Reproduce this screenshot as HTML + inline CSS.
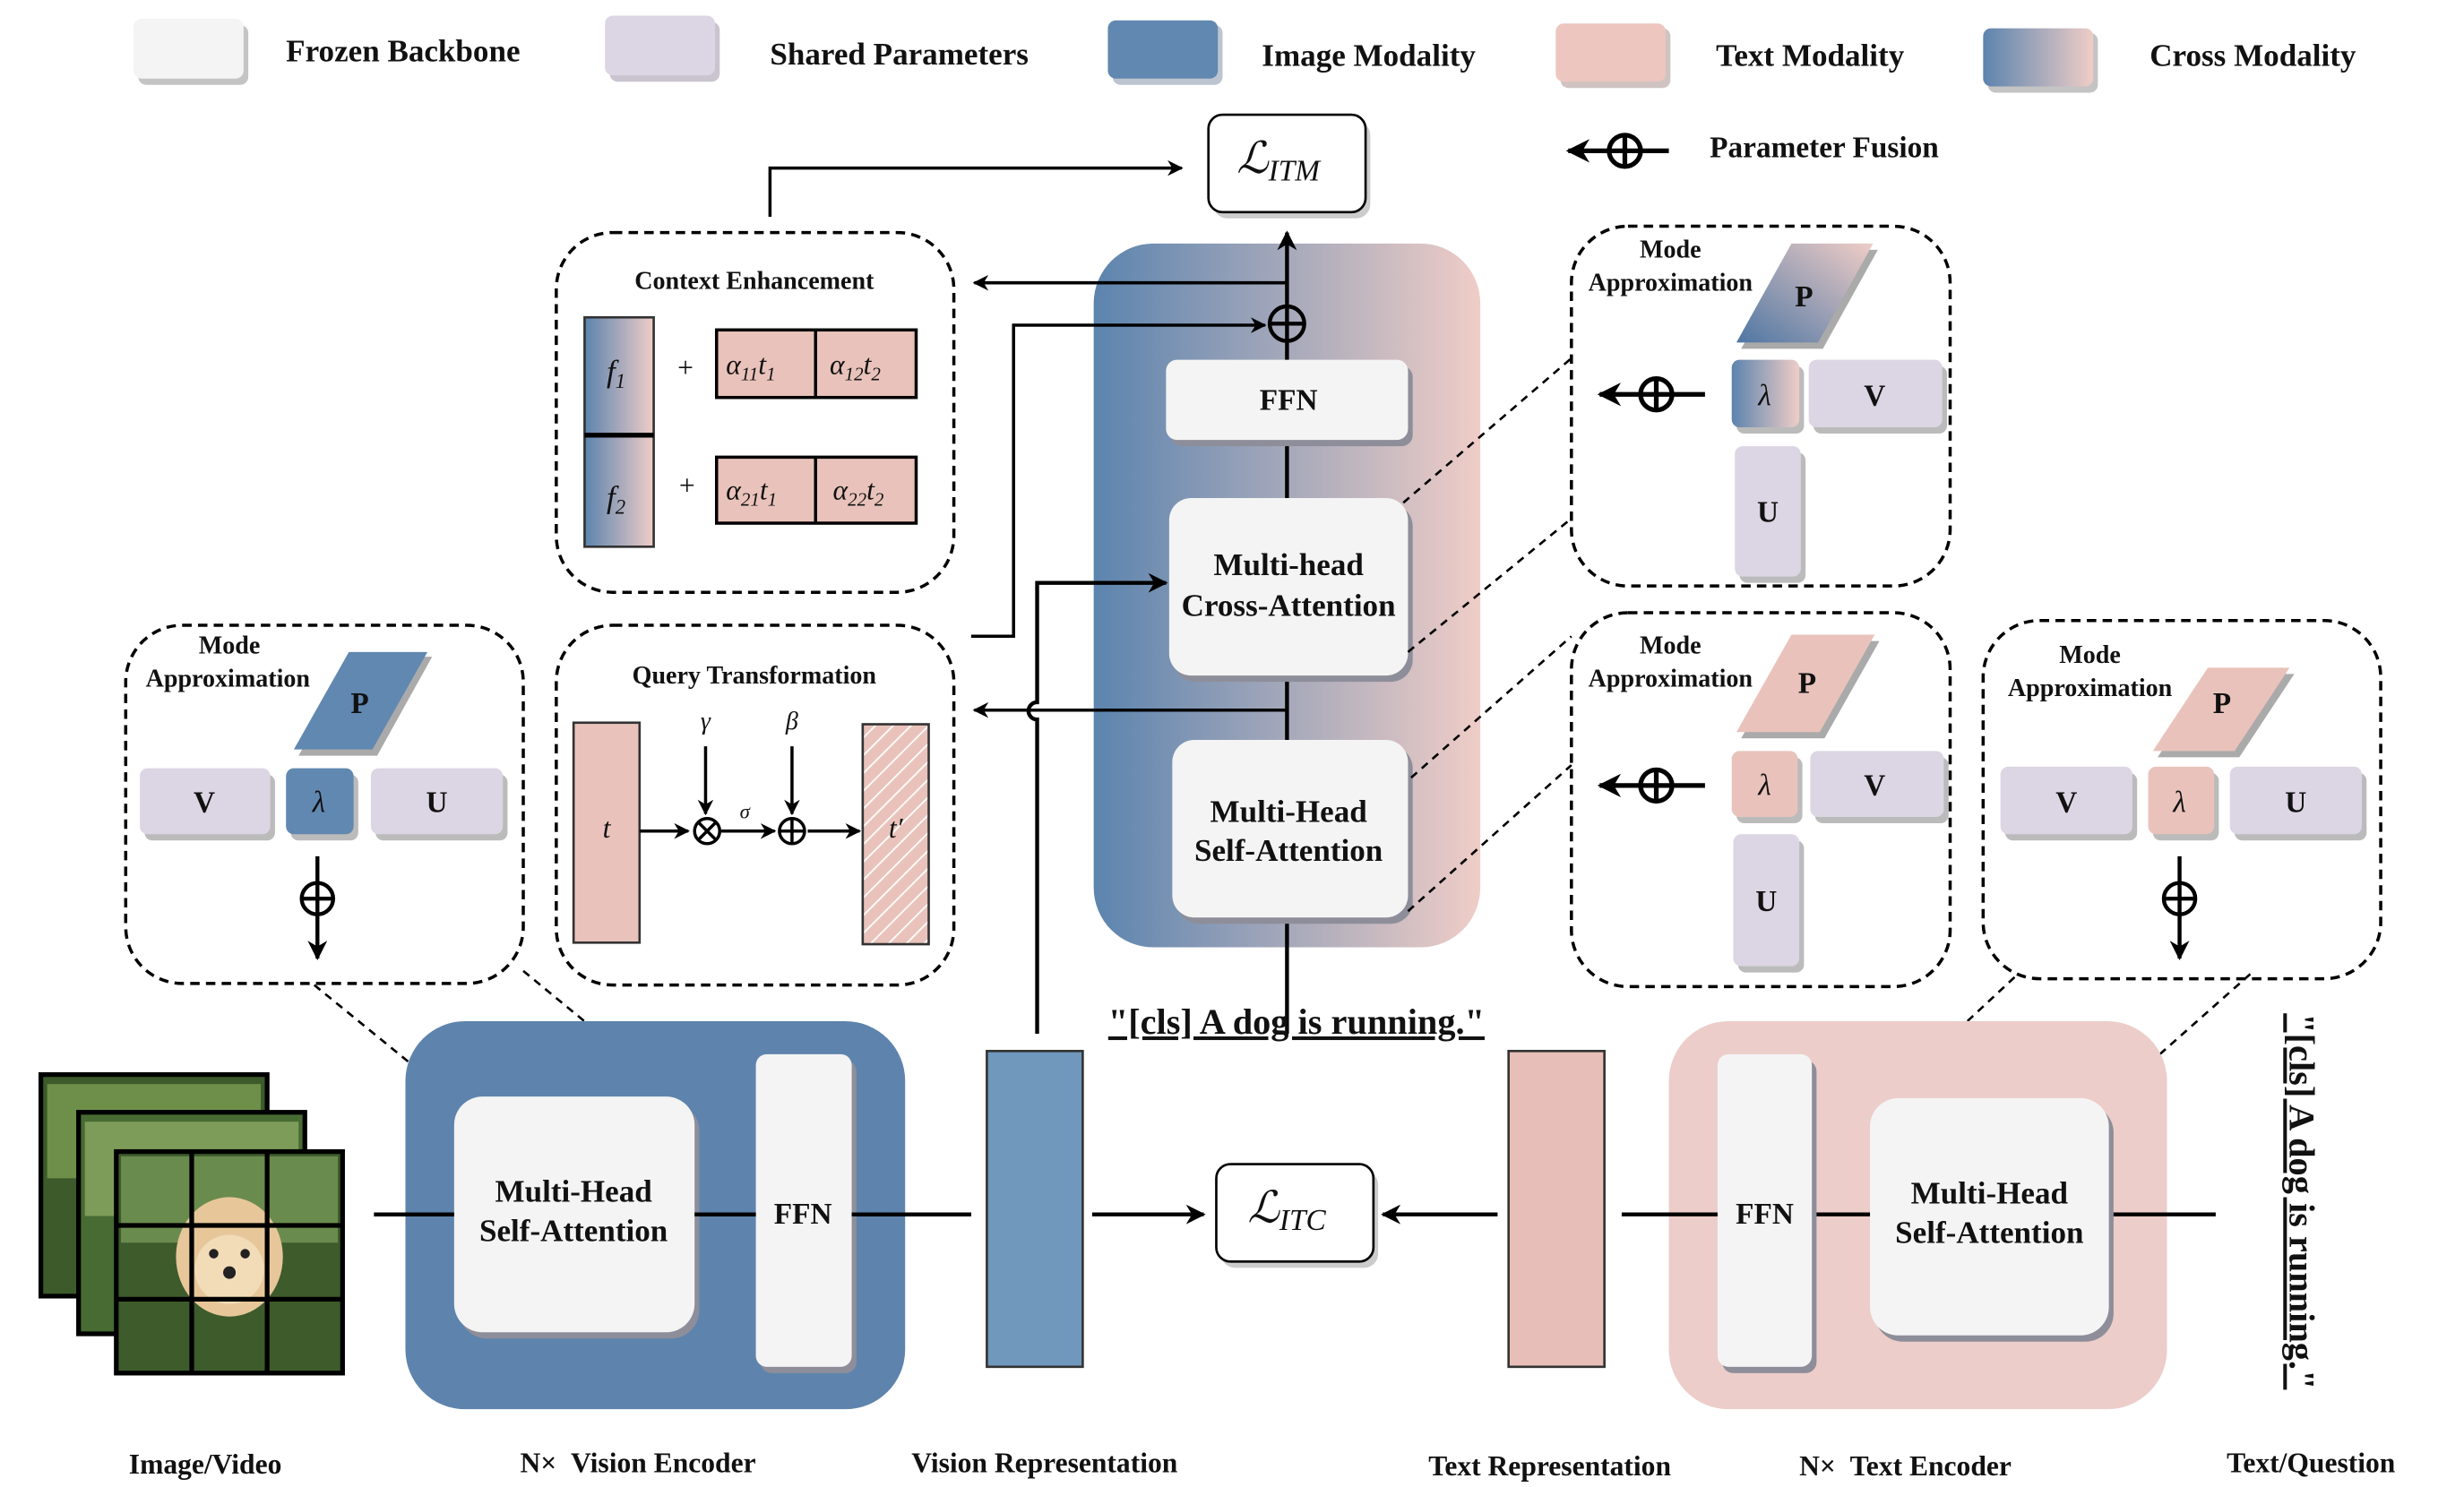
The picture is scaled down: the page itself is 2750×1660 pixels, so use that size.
<!DOCTYPE html>
<html><head><meta charset="utf-8"><style>
html,body{margin:0;padding:0;background:#fff;}
svg{display:block;}
text{font-family:"Liberation Serif",serif;font-weight:bold;fill:#111;}
.it{font-style:italic;font-weight:normal;}
</style></head><body>
<svg width="2750" height="1660" viewBox="0 0 1568 946.5" preserveAspectRatio="none" xmlns="http://www.w3.org/2000/svg">
<defs>
<linearGradient id="cg" x1="0" x2="1" y1="0" y2="0"><stop offset="0" stop-color="#5c84ae"/><stop offset="1" stop-color="#efcdc7"/></linearGradient>
<linearGradient id="cg2" x1="0" x2="1" y1="1" y2="0"><stop offset="0" stop-color="#4f76a3"/><stop offset="1" stop-color="#efcdc7"/></linearGradient>
<marker id="ar" viewBox="0 0 10 10" refX="9" refY="5" markerWidth="5" markerHeight="5" orient="auto"><path d="M0,0 L10,5 L0,10 L3,5z" fill="#000"/></marker>
<pattern id="hat" width="8" height="8" patternUnits="userSpaceOnUse" patternTransform="rotate(45)"><rect width="8" height="8" fill="#e9c3bb"/><line x1="0" y1="0" x2="0" y2="8" stroke="#fff" stroke-width="2"/></pattern>
</defs>

<!-- legend -->
<g>
<rect x="88" y="16" width="70" height="38" rx="5" fill="#c4c4c4"/><rect x="85" y="12" width="70" height="38" rx="5" fill="#f4f4f4"/>
<rect x="388" y="14" width="70" height="38" rx="5" fill="#c9c4cf"/><rect x="385" y="10" width="70" height="38" rx="5" fill="#dcd5e3"/>
<rect x="708" y="16" width="70" height="38" rx="5" fill="#bcc4cf"/><rect x="705" y="13" width="70" height="37" rx="5" fill="#6188b0"/>
<rect x="993" y="18" width="70" height="38" rx="5" fill="#cfc4c2"/><rect x="990" y="15" width="70" height="37" rx="5" fill="#ecc6bf"/>
<rect x="1265" y="21" width="70" height="38" rx="5" fill="#c4c4c4"/><rect x="1262" y="18" width="70" height="37" rx="5" fill="url(#cg)"/>
<text x="182" y="39" font-size="20">Frozen Backbone</text>
<text x="490" y="41" font-size="20">Shared Parameters</text>
<text x="803" y="42" font-size="20">Image Modality</text>
<text x="1092" y="42" font-size="20">Text Modality</text>
<text x="1368" y="42" font-size="20">Cross Modality</text>
<line x1="1062" y1="96" x2="998" y2="96" stroke="#000" stroke-width="3" marker-end="url(#ar)"/>
<circle cx="1034" cy="96" r="10" fill="none" stroke="#000" stroke-width="3"/><line x1="1034" y1="86" x2="1034" y2="106" stroke="#000" stroke-width="3"/>
<text x="1088" y="100" font-size="19">Parameter Fusion</text>
</g>

<!-- LITM -->
<rect x="772" y="77" width="100" height="62" rx="9" fill="#ccc"/>
<rect x="769" y="73" width="100" height="62" rx="9" fill="#fff" stroke="#000" stroke-width="1.5"/>
<text x="787" y="110" font-size="28" class="it">ℒ<tspan font-size="19" dy="5">ITM</tspan></text>
<polyline points="490,138 490,107 752,107" fill="none" stroke="#000" stroke-width="2" marker-end="url(#ar)"/>

<!-- center cross block -->
<rect x="696" y="155" width="246" height="448" rx="38" fill="url(#cg)"/>
<line x1="819" y1="658" x2="819" y2="148" stroke="#000" stroke-width="2.5" marker-end="url(#ar)"/>
<circle cx="819" cy="206" r="11" fill="none" stroke="#000" stroke-width="2.5"/><line x1="808" y1="206" x2="830" y2="206" stroke="#000" stroke-width="2.5"/>
<rect x="745" y="233" width="154" height="51" rx="7" fill="#8e8e9a"/><rect x="742" y="229" width="154" height="51" rx="7" fill="#f4f4f4"/>
<text x="820" y="261" font-size="19" text-anchor="middle">FFN</text>
<rect x="747" y="321" width="152" height="113" rx="14" fill="#8e8e9a"/><rect x="744" y="317" width="152" height="113" rx="14" fill="#f4f4f4"/>
<text x="820" y="366" font-size="20" text-anchor="middle">Multi-head</text><text x="820" y="392" font-size="20" text-anchor="middle">Cross-Attention</text>
<rect x="749" y="475" width="150" height="113" rx="14" fill="#8e8e9a"/><rect x="746" y="471" width="150" height="113" rx="14" fill="#f4f4f4"/>
<text x="820" y="523" font-size="20" text-anchor="middle">Multi-Head</text><text x="820" y="548" font-size="20" text-anchor="middle">Self-Attention</text>
<line x1="819" y1="180" x2="620" y2="180" stroke="#000" stroke-width="2" marker-end="url(#ar)"/>
<polyline points="618,405 645,405 645,207 805,207" fill="none" stroke="#000" stroke-width="2" marker-end="url(#ar)"/>
<line x1="819" y1="452" x2="620" y2="452" stroke="#000" stroke-width="2" marker-end="url(#ar)"/>
<path d="M660,658 L660,458 A5,5 0 0 1 660,447 L660,371 L742,371" fill="none" stroke="#000" stroke-width="2.5" marker-end="url(#ar)"/>
<text x="825" y="658" font-size="23" text-anchor="middle" text-decoration="underline">"[cls] A dog is running."</text>

<!-- Context Enhancement -->
<rect x="354" y="148" width="253" height="229" rx="36" fill="none" stroke="#000" stroke-width="2" stroke-dasharray="6,4"/>
<text x="480" y="184" font-size="16" text-anchor="middle">Context Enhancement</text>
<rect x="372" y="202" width="44" height="146" fill="url(#cg)" stroke="#333" stroke-width="1.5"/>
<line x1="372" y1="277" x2="416" y2="277" stroke="#000" stroke-width="3"/>
<text x="386" y="243" font-size="20" class="it">f<tspan font-size="13" dy="4">1</tspan></text>
<text x="386" y="323" font-size="20" class="it">f<tspan font-size="13" dy="4">2</tspan></text>
<text x="430" y="240" font-size="18" class="it">+</text><text x="431" y="315" font-size="18" class="it">+</text>
<rect x="456" y="210" width="127" height="43" fill="#e9c3bb" stroke="#000" stroke-width="2"/><line x1="519" y1="210" x2="519" y2="253" stroke="#000" stroke-width="2"/>
<rect x="456" y="291" width="127" height="42" fill="#e9c3bb" stroke="#000" stroke-width="2"/><line x1="519" y1="291" x2="519" y2="333" stroke="#000" stroke-width="2"/>
<text x="462" y="238" font-size="18" class="it">α<tspan font-size="12" dy="4">11</tspan><tspan dy="-4">t</tspan><tspan font-size="12" dy="4">1</tspan></text>
<text x="528" y="238" font-size="18" class="it">α<tspan font-size="12" dy="4">12</tspan><tspan dy="-4">t</tspan><tspan font-size="12" dy="4">2</tspan></text>
<text x="462" y="318" font-size="18" class="it">α<tspan font-size="12" dy="4">21</tspan><tspan dy="-4">t</tspan><tspan font-size="12" dy="4">1</tspan></text>
<text x="530" y="318" font-size="18" class="it">α<tspan font-size="12" dy="4">22</tspan><tspan dy="-4">t</tspan><tspan font-size="12" dy="4">2</tspan></text>

<!-- Query Transformation -->
<rect x="354" y="398" width="253" height="229" rx="36" fill="none" stroke="#000" stroke-width="2" stroke-dasharray="6,4"/>
<text x="480" y="435" font-size="16" text-anchor="middle">Query Transformation</text>
<rect x="365" y="460" width="42" height="140" fill="#e9c3bb" stroke="#333" stroke-width="1.5"/>
<rect x="549" y="461" width="42" height="140" fill="url(#hat)" stroke="#333" stroke-width="1.5"/>
<text x="386" y="533" font-size="18" class="it" text-anchor="middle">t</text>
<text x="570" y="533" font-size="18" class="it" text-anchor="middle">t′</text>
<line x1="407" y1="529" x2="438" y2="529" stroke="#000" stroke-width="2" marker-end="url(#ar)"/>
<line x1="459" y1="529" x2="493" y2="529" stroke="#000" stroke-width="2" marker-end="url(#ar)"/>
<line x1="514" y1="529" x2="547" y2="529" stroke="#000" stroke-width="2" marker-end="url(#ar)"/>
<circle cx="450" cy="529" r="8" fill="#fff" stroke="#000" stroke-width="2"/><path d="M444,523 L456,535 M456,523 L444,535" stroke="#000" stroke-width="2"/>
<circle cx="504" cy="529" r="8" fill="#fff" stroke="#000" stroke-width="2"/><path d="M496,529 L512,529 M504,521 L504,537" stroke="#000" stroke-width="2"/>
<line x1="449" y1="475" x2="449" y2="518" stroke="#000" stroke-width="2" marker-end="url(#ar)"/>
<line x1="504" y1="475" x2="504" y2="518" stroke="#000" stroke-width="2" marker-end="url(#ar)"/>
<text x="449" y="464" font-size="16" class="it" text-anchor="middle">γ</text>
<text x="504" y="464" font-size="16" class="it" text-anchor="middle">β</text>
<text x="474" y="521" font-size="13" class="it" text-anchor="middle">σ</text>

<!-- Mode approx: left -->
<g>
<rect x="80" y="398" width="253" height="228" rx="36" fill="none" stroke="#000" stroke-width="2" stroke-dasharray="6,4"/>
<text x="146" y="416" font-size="16" text-anchor="middle">Mode</text><text x="145" y="437" font-size="16" text-anchor="middle">Approximation</text>
<path d="M190,481 L225,418 L275,418 L240,481z" fill="#aaa"/><path d="M187,477 L222,415 L272,415 L237,477z" fill="#6188b0"/>
<text x="229" y="454" font-size="19" text-anchor="middle">P</text>
<rect x="92" y="493" width="83" height="42" rx="5" fill="#bbb"/><rect x="89" y="489" width="83" height="42" rx="5" fill="#dcd5e3"/>
<rect x="185" y="493" width="43" height="42" rx="5" fill="#bbb"/><rect x="182" y="489" width="43" height="42" rx="5" fill="#6188b0"/>
<rect x="239" y="493" width="84" height="42" rx="5" fill="#bbb"/><rect x="236" y="489" width="84" height="42" rx="5" fill="#dcd5e3"/>
<text x="130" y="517" font-size="19" text-anchor="middle">V</text><text x="203" y="517" font-size="19" class="it" text-anchor="middle">λ</text><text x="278" y="517" font-size="19" text-anchor="middle">U</text>
<line x1="202" y1="545" x2="202" y2="610" stroke="#000" stroke-width="2.5" marker-end="url(#ar)"/>
<circle cx="202" cy="572" r="10" fill="#fff" stroke="#000" stroke-width="2.5"/><path d="M192,572 L212,572 M202,562 L202,582" stroke="#000" stroke-width="2.5"/>
</g>

<!-- Mode approx: right top -->
<g>
<rect x="1000" y="144" width="241" height="229" rx="36" fill="none" stroke="#000" stroke-width="2" stroke-dasharray="6,4"/>
<text x="1063" y="164" font-size="16" text-anchor="middle">Mode</text><text x="1063" y="185" font-size="16" text-anchor="middle">Approximation</text>
<path d="M1108,222 L1143,159 L1195,159 L1160,222z" fill="#aaa"/><path d="M1105,218 L1140,155 L1192,155 L1157,218z" fill="url(#cg2)"/>
<text x="1148" y="195" font-size="19" text-anchor="middle">P</text>
<line x1="1085" y1="251" x2="1018" y2="251" stroke="#000" stroke-width="3" marker-end="url(#ar)"/>
<circle cx="1054" cy="251" r="10" fill="none" stroke="#000" stroke-width="3"/><line x1="1054" y1="241" x2="1054" y2="261" stroke="#000" stroke-width="3"/>
<rect x="1105" y="233" width="43" height="43" rx="5" fill="#bbb"/><rect x="1102" y="229" width="43" height="43" rx="5" fill="url(#cg)"/>
<rect x="1154" y="233" width="85" height="43" rx="5" fill="#bbb"/><rect x="1151" y="229" width="85" height="43" rx="5" fill="#dcd5e3"/>
<rect x="1107" y="288" width="42" height="83" rx="5" fill="#bbb"/><rect x="1104" y="284" width="42" height="83" rx="5" fill="#dcd5e3"/>
<text x="1123" y="258" font-size="19" class="it" text-anchor="middle">λ</text><text x="1193" y="258" font-size="19" text-anchor="middle">V</text><text x="1125" y="332" font-size="19" text-anchor="middle">U</text>
</g>

<!-- Mode approx: right middle -->
<g>
<rect x="1000" y="390" width="241" height="238" rx="36" fill="none" stroke="#000" stroke-width="2" stroke-dasharray="6,4"/>
<text x="1063" y="416" font-size="16" text-anchor="middle">Mode</text><text x="1063" y="437" font-size="16" text-anchor="middle">Approximation</text>
<path d="M1108,470 L1143,408 L1196,408 L1161,470z" fill="#aaa"/><path d="M1105,466 L1140,404 L1193,404 L1158,466z" fill="#e9c3bb"/>
<text x="1150" y="441" font-size="19" text-anchor="middle">P</text>
<line x1="1085" y1="500" x2="1018" y2="500" stroke="#000" stroke-width="3" marker-end="url(#ar)"/>
<circle cx="1054" cy="500" r="10" fill="none" stroke="#000" stroke-width="3"/><line x1="1054" y1="490" x2="1054" y2="510" stroke="#000" stroke-width="3"/>
<rect x="1105" y="482" width="42" height="42" rx="5" fill="#bbb"/><rect x="1102" y="478" width="42" height="42" rx="5" fill="#e9c3bb"/>
<rect x="1155" y="482" width="85" height="42" rx="5" fill="#bbb"/><rect x="1152" y="478" width="85" height="42" rx="5" fill="#dcd5e3"/>
<rect x="1106" y="535" width="42" height="84" rx="5" fill="#bbb"/><rect x="1103" y="531" width="42" height="84" rx="5" fill="#dcd5e3"/>
<text x="1123" y="506" font-size="19" class="it" text-anchor="middle">λ</text><text x="1193" y="506" font-size="19" text-anchor="middle">V</text><text x="1124" y="580" font-size="19" text-anchor="middle">U</text>
</g>

<!-- Mode approx: far right -->
<g>
<rect x="1262" y="395" width="253" height="228" rx="36" fill="none" stroke="#000" stroke-width="2" stroke-dasharray="6,4"/>
<text x="1330" y="422" font-size="16" text-anchor="middle">Mode</text><text x="1330" y="443" font-size="16" text-anchor="middle">Approximation</text>
<path d="M1373,482 L1408,429 L1460,429 L1425,482z" fill="#aaa"/><path d="M1370,478 L1405,425 L1457,425 L1422,478z" fill="#e9c3bb"/>
<text x="1414" y="454" font-size="19" text-anchor="middle">P</text>
<rect x="1276" y="492" width="84" height="43" rx="5" fill="#bbb"/><rect x="1273" y="488" width="84" height="43" rx="5" fill="#dcd5e3"/>
<rect x="1370" y="492" width="42" height="43" rx="5" fill="#bbb"/><rect x="1367" y="488" width="42" height="43" rx="5" fill="#e9c3bb"/>
<rect x="1422" y="492" width="84" height="43" rx="5" fill="#bbb"/><rect x="1419" y="488" width="84" height="43" rx="5" fill="#dcd5e3"/>
<text x="1315" y="517" font-size="19" text-anchor="middle">V</text><text x="1387" y="517" font-size="19" class="it" text-anchor="middle">λ</text><text x="1461" y="517" font-size="19" text-anchor="middle">U</text>
<line x1="1387" y1="545" x2="1387" y2="610" stroke="#000" stroke-width="2.5" marker-end="url(#ar)"/>
<circle cx="1387" cy="572" r="10" fill="#fff" stroke="#000" stroke-width="2.5"/><path d="M1377,572 L1397,572 M1387,562 L1387,582" stroke="#000" stroke-width="2.5"/>
</g>

<!-- dashed connectors -->
<g stroke="#000" stroke-width="1.5" stroke-dasharray="5,4" fill="none">
<line x1="893" y1="320" x2="1000" y2="228"/><line x1="896" y1="415" x2="1000" y2="330"/>
<line x1="898" y1="495" x2="1000" y2="405"/><line x1="896" y1="580" x2="1000" y2="487"/>
<line x1="200" y1="627" x2="292" y2="702"/><line x1="333" y1="618" x2="435" y2="702"/>
<line x1="1282" y1="622" x2="1192" y2="706"/><line x1="1432" y1="620" x2="1335" y2="706"/>
</g>

<!-- bottom flow -->
<rect x="258" y="650" width="318" height="247" rx="38" fill="#5e84ad"/>
<line x1="238" y1="773" x2="618" y2="773" stroke="#000" stroke-width="2.5"/>
<rect x="292" y="702" width="153" height="150" rx="18" fill="#8e8e9a"/><rect x="289" y="698" width="153" height="150" rx="18" fill="#f4f4f4"/>
<text x="365" y="765" font-size="20" text-anchor="middle">Multi-Head</text><text x="365" y="790" font-size="20" text-anchor="middle">Self-Attention</text>
<rect x="484" y="675" width="61" height="199" rx="7" fill="#8e8e9a"/><rect x="481" y="671" width="61" height="199" rx="7" fill="#f4f4f4"/>
<text x="511" y="779" font-size="19" text-anchor="middle">FFN</text>
<line x1="442" y1="773" x2="481" y2="773" stroke="#000" stroke-width="2.5"/><line x1="542" y1="773" x2="618" y2="773" stroke="#000" stroke-width="2.5"/>
<line x1="238" y1="773" x2="289" y2="773" stroke="#000" stroke-width="2.5"/>
<rect x="628" y="669" width="61" height="201" fill="#7097bc" stroke="#333" stroke-width="1.5"/>
<line x1="695" y1="773" x2="766" y2="773" stroke="#000" stroke-width="2.5" marker-end="url(#ar)"/>
<rect x="777" y="745" width="100" height="62" rx="9" fill="#ccc"/>
<rect x="774" y="741" width="100" height="62" rx="9" fill="#fff" stroke="#000" stroke-width="1.5"/>
<text x="794" y="778" font-size="28" class="it">ℒ<tspan font-size="19" dy="5">ITC</tspan></text>
<line x1="953" y1="773" x2="880" y2="773" stroke="#000" stroke-width="2.5" marker-end="url(#ar)"/>
<rect x="960" y="669" width="61" height="201" fill="#e8bfb8" stroke="#333" stroke-width="1.5"/>
<rect x="1062" y="650" width="317" height="247" rx="38" fill="#eccdc9"/>
<line x1="1032" y1="773" x2="1410" y2="773" stroke="#000" stroke-width="2.5"/>
<rect x="1096" y="675" width="60" height="199" rx="7" fill="#8e8e9a"/><rect x="1093" y="671" width="60" height="199" rx="7" fill="#f4f4f4"/>
<text x="1123" y="779" font-size="19" text-anchor="middle">FFN</text>
<rect x="1193" y="703" width="152" height="151" rx="18" fill="#8e8e9a"/><rect x="1190" y="699" width="152" height="151" rx="18" fill="#f4f4f4"/>
<text x="1266" y="766" font-size="20" text-anchor="middle">Multi-Head</text><text x="1266" y="791" font-size="20" text-anchor="middle">Self-Attention</text>
<text transform="translate(1457,645) rotate(90)" font-size="23" text-decoration="underline">"[cls] A dog is running."</text>

<!-- images -->
<g>
<rect x="26" y="684" width="144" height="141" fill="#3c5a2a" stroke="#000" stroke-width="3"/>
<rect x="30" y="690" width="136" height="60" fill="#6d8f4a"/>
<rect x="50" y="708" width="144" height="141" fill="#476b32" stroke="#000" stroke-width="3"/>
<rect x="54" y="714" width="136" height="60" fill="#7d9c5a"/>
<rect x="74" y="733" width="144" height="141" fill="#3e5b2c" stroke="#000" stroke-width="3"/>
<rect x="77" y="736" width="138" height="55" fill="#6a8b4e"/>
<ellipse cx="146" cy="800" rx="34" ry="38" fill="#e7c79a"/>
<ellipse cx="146" cy="808" rx="22" ry="22" fill="#f2dcb8"/>
<circle cx="136" cy="798" r="3" fill="#222"/><circle cx="156" cy="798" r="3" fill="#222"/><circle cx="146" cy="810" r="4" fill="#222"/>
<g stroke="#000" stroke-width="3">
<line x1="122" y1="733" x2="122" y2="874"/><line x1="170" y1="733" x2="170" y2="874"/>
<line x1="74" y1="780" x2="218" y2="780"/><line x1="74" y1="827" x2="218" y2="827"/>
</g>
</g>

<!-- bottom labels -->
<text x="82" y="938" font-size="18">Image/Video</text>
<text x="331" y="937" font-size="18">N× &#160;Vision Encoder</text>
<text x="580" y="937" font-size="18">Vision Representation</text>
<text x="909" y="939" font-size="18">Text Representation</text>
<text x="1145" y="939" font-size="18">N× &#160;Text Encoder</text>
<text x="1417" y="937" font-size="18">Text/Question</text>
</svg>
</body></html>
